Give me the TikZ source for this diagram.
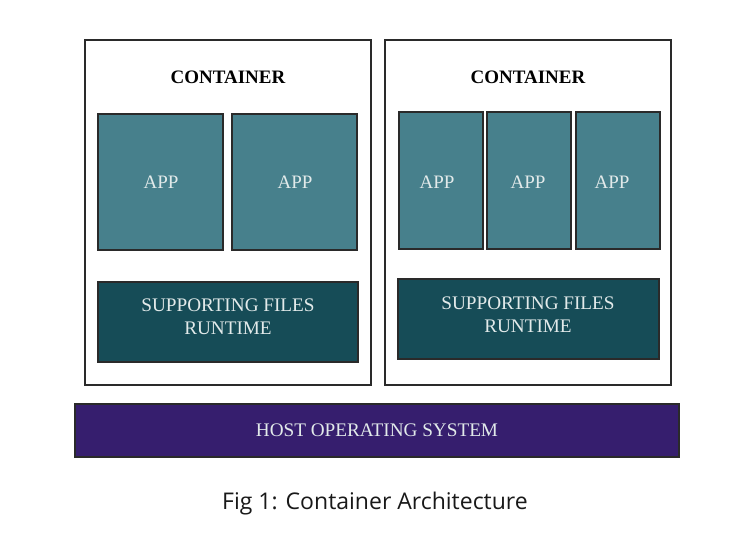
\documentclass[tikz,border=0pt]{standalone}
\usepackage{fontspec}
\setmainfont{Liberation Serif}
\newfontfamily\capfont{Open Sans}
\definecolor{appc}{HTML}{47808C}
\definecolor{supc}{HTML}{164C57}
\definecolor{hostc}{HTML}{361E6E}
\definecolor{txtc}{HTML}{E2EAEA}
\definecolor{edgec}{HTML}{2A2A2A}
\begin{document}
\begin{tikzpicture}[x=1pt,y=-1pt,
  contbox/.style={draw=edgec,line width=1.2pt,fill=white},
  appbox/.style={draw=edgec,line width=1.3pt,fill=appc,text=txtc,font=\fontsize{19}{22}\selectfont},
  supbox/.style={draw=edgec,line width=1.3pt,fill=supc,text=txtc,align=center,font=\fontsize{19.2}{23}\selectfont},
  hostbox/.style={draw=edgec,line width=1.3pt,fill=hostc,text=txtc,font=\fontsize{19.2}{22}\selectfont},
  titletext/.style={font=\fontsize{19}{22}\selectfont\bfseries,text=black}]
\useasboundingbox (0,0) rectangle (750,540);
% containers
\draw[contbox] (85,40) rectangle (371,385);
\draw[contbox] (385,40) rectangle (671,385);
\node[titletext] (t1) at (228,77) {CONTAINER};
\node[titletext] (t2) at (528,77) {CONTAINER};
% left apps
\draw[appbox] (98,114) rectangle (223,250);
\node[appbox,draw=none,fill=none] (a1) at (161,182) {APP};
\draw[appbox] (232,114) rectangle (357,250);
\node[appbox,draw=none,fill=none] (a2) at (295,182) {APP};
% right apps
\draw[appbox] (399,112) rectangle (483,249);
\node[appbox,draw=none,fill=none] (a3) at (437,182) {APP};
\draw[appbox] (487,112) rectangle (571,249);
\node[appbox,draw=none,fill=none] (a4) at (528,182) {APP};
\draw[appbox] (576,112) rectangle (660,249);
\node[appbox,draw=none,fill=none] (a5) at (612,182) {APP};
% supporting
\draw[supbox] (98,282) rectangle (358,362);
\node[supbox,draw=none,fill=none] (s1) at (228,317) {SUPPORTING FILES\\RUNTIME};
\draw[supbox] (398,279) rectangle (659,359);
\node[supbox,draw=none,fill=none] (s2) at (528,315) {SUPPORTING FILES\\RUNTIME};
% host
\draw[hostbox] (75,404) rectangle node (h) {HOST OPERATING SYSTEM} (679,457);
% caption
\node[font=\capfont\fontsize{23}{27}\selectfont,text=black!90] (cap) at (375,504) {Fig 1: Container Architecture};
\end{tikzpicture}
\end{document}
